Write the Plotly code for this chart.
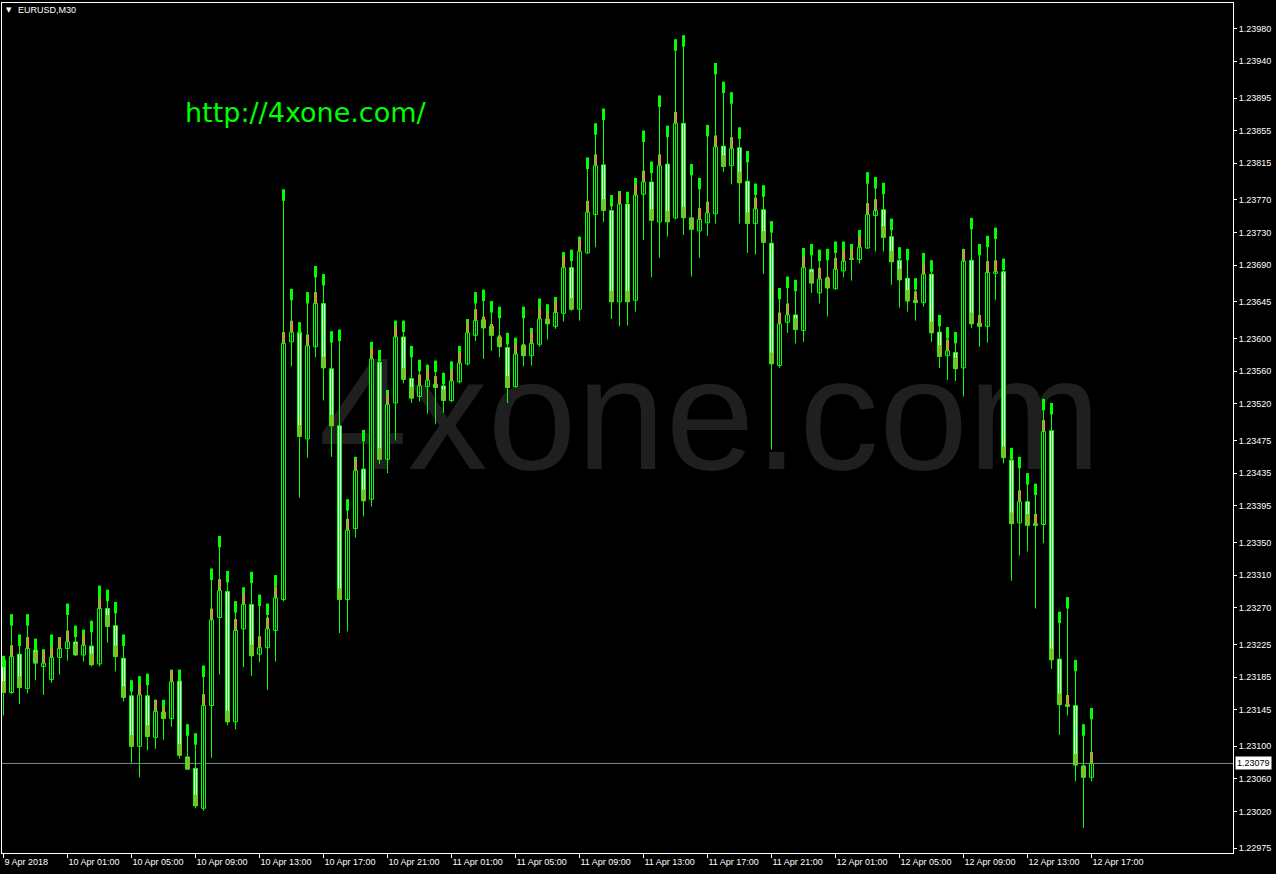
import plotly.graph_objects as go

# ---------------- data (EURUSD, M30) ----------------
opens = [1.23206, 1.23166, 1.23213, 1.23171, 1.23218, 1.23198, 1.23182, 1.23209, 1.23220, 1.23228,
         1.23212, 1.23223, 1.23201, 1.23269, 1.23248, 1.23208, 1.23162, 1.23100, 1.23162, 1.23111,
         1.23142, 1.23134, 1.23180, 1.23087, 1.23073, 1.23024, 1.23150, 1.23258, 1.23290, 1.23130,
         1.23244, 1.23274, 1.23213, 1.23221, 1.23242, 1.23280, 1.23596, 1.23608, 1.23477, 1.23590,
         1.23643, 1.23563, 1.23493, 1.23280, 1.23367, 1.23440, 1.23403, 1.23571, 1.23452, 1.23521,
         1.23602, 1.23551, 1.23529, 1.23541, 1.23544, 1.23542, 1.23524, 1.23547, 1.23569, 1.23604,
         1.23623, 1.23615, 1.23602, 1.23589, 1.23541, 1.23592, 1.23579, 1.23593, 1.23624, 1.23615,
         1.23631, 1.23687, 1.23636, 1.23705, 1.23752, 1.23813, 1.23757, 1.23645, 1.23765, 1.23647,
         1.23777, 1.23792, 1.23743, 1.23814, 1.23748, 1.23864, 1.23748, 1.23732, 1.23742, 1.23753,
         1.23836, 1.23812, 1.23834, 1.23793, 1.23741, 1.23758, 1.23717, 1.23567, 1.23620, 1.23629,
         1.23610, 1.23685, 1.23656, 1.23674, 1.23661, 1.23683, 1.23698, 1.23697, 1.23711, 1.23751,
         1.23758, 1.23725, 1.23696, 1.23674, 1.23647, 1.23644, 1.23679, 1.23608, 1.23579, 1.23583,
         1.23564, 1.23696, 1.23619, 1.23615, 1.23680, 1.23682, 1.23451, 1.23374, 1.23400, 1.23373,
         1.23372, 1.23487, 1.23207, 1.23151, 1.23150, 1.23076, 1.23062]

highs = [1.23211, 1.23262, 1.23237, 1.23262, 1.23232, 1.23219, 1.23237, 1.23234, 1.23275, 1.23248,
         1.23243, 1.23254, 1.23297, 1.23292, 1.23277, 1.23237, 1.23181, 1.23186, 1.23189, 1.23157,
         1.23157, 1.23194, 1.23194, 1.23127, 1.23116, 1.23199, 1.23318, 1.23358, 1.23315, 1.23278,
         1.23295, 1.23314, 1.23286, 1.23275, 1.23310, 1.23783, 1.23661, 1.23620, 1.23657, 1.23689,
         1.23679, 1.23609, 1.23611, 1.23403, 1.23455, 1.23488, 1.23596, 1.23586, 1.23537, 1.23622,
         1.23622, 1.23591, 1.23574, 1.23568, 1.23573, 1.23558, 1.23572, 1.23591, 1.23624, 1.23657,
         1.23660, 1.23646, 1.23639, 1.23607, 1.23601, 1.23639, 1.23613, 1.23649, 1.23642, 1.23651,
         1.23706, 1.23709, 1.23725, 1.23822, 1.23864, 1.23882, 1.23776, 1.23781, 1.23780, 1.23797,
         1.23855, 1.23817, 1.23898, 1.23861, 1.23967, 1.23972, 1.23814, 1.23797, 1.23862, 1.23938,
         1.23915, 1.23902, 1.23859, 1.23830, 1.23790, 1.23788, 1.23744, 1.23662, 1.23676, 1.23672,
         1.23711, 1.23716, 1.23709, 1.23710, 1.23719, 1.23719, 1.23716, 1.23733, 1.23804, 1.23798,
         1.23791, 1.23747, 1.23712, 1.23710, 1.23674, 1.23705, 1.23696, 1.23629, 1.23614, 1.23608,
         1.23710, 1.23748, 1.23716, 1.23726, 1.23736, 1.23698, 1.23466, 1.23455, 1.23435, 1.23422,
         1.23526, 1.23521, 1.23265, 1.23283, 1.23206, 1.23127, 1.23147]

lows = [1.23138, 1.23164, 1.23152, 1.23165, 1.23181, 1.23163, 1.23178, 1.23188, 1.23205, 1.23211,
        1.23204, 1.23198, 1.23198, 1.23227, 1.23192, 1.23155, 1.23080, 1.23062, 1.23095, 1.23097,
        1.23108, 1.23124, 1.23085, 1.23071, 1.23024, 1.23021, 1.23086, 1.23188, 1.23126, 1.23121,
        1.23197, 1.23186, 1.23203, 1.23169, 1.23204, 1.23278, 1.23566, 1.23405, 1.23454, 1.23577,
        1.23524, 1.23455, 1.23239, 1.23241, 1.23356, 1.23382, 1.23394, 1.23446, 1.23435, 1.23475,
        1.23545, 1.23521, 1.23523, 1.23508, 1.23495, 1.23509, 1.23522, 1.23545, 1.23567, 1.23597,
        1.23575, 1.23585, 1.23577, 1.23521, 1.23540, 1.23566, 1.23567, 1.23590, 1.23599, 1.23612,
        1.23621, 1.23634, 1.23622, 1.23704, 1.23712, 1.23743, 1.23624, 1.23615, 1.23616, 1.23633,
        1.23721, 1.23675, 1.23699, 1.23725, 1.23746, 1.23727, 1.23676, 1.23699, 1.23726, 1.23741,
        1.23804, 1.23789, 1.23741, 1.23705, 1.23703, 1.23679, 1.23464, 1.23564, 1.23607, 1.23594,
        1.23596, 1.23656, 1.23643, 1.23627, 1.23660, 1.23675, 1.23671, 1.23692, 1.23710, 1.23707,
        1.23707, 1.23666, 1.23638, 1.23633, 1.23622, 1.23639, 1.23596, 1.23564, 1.23549, 1.23548,
        1.23529, 1.23613, 1.23590, 1.23595, 1.23647, 1.23447, 1.23303, 1.23334, 1.23339, 1.23269,
        1.23349, 1.23195, 1.23114, 1.23138, 1.23057, 1.23000, 1.23057]

closes = [1.23166, 1.23210, 1.23172, 1.23220, 1.23202, 1.23202, 1.23209, 1.23220, 1.23228, 1.23212,
          1.23224, 1.23200, 1.23269, 1.23247, 1.23210, 1.23160, 1.23100, 1.23163, 1.23112, 1.23143,
          1.23134, 1.23179, 1.23089, 1.23072, 1.23027, 1.23150, 1.23255, 1.23291, 1.23130, 1.23242,
          1.23274, 1.23211, 1.23221, 1.23244, 1.23282, 1.23594, 1.23608, 1.23480, 1.23591, 1.23643,
          1.23564, 1.23493, 1.23280, 1.23365, 1.23438, 1.23401, 1.23575, 1.23452, 1.23519, 1.23602,
          1.23550, 1.23527, 1.23542, 1.23549, 1.23540, 1.23524, 1.23548, 1.23570, 1.23607, 1.23622,
          1.23613, 1.23604, 1.23590, 1.23540, 1.23581, 1.23579, 1.23594, 1.23624, 1.23618, 1.23632,
          1.23687, 1.23636, 1.23707, 1.23755, 1.23812, 1.23757, 1.23645, 1.23765, 1.23645, 1.23776,
          1.23792, 1.23745, 1.23812, 1.23743, 1.23864, 1.23748, 1.23734, 1.23746, 1.23754, 1.23835,
          1.23811, 1.23833, 1.23791, 1.23741, 1.23759, 1.23718, 1.23569, 1.23618, 1.23629, 1.23611,
          1.23687, 1.23668, 1.23673, 1.23662, 1.23685, 1.23695, 1.23697, 1.23712, 1.23752, 1.23757,
          1.23724, 1.23694, 1.23672, 1.23646, 1.23644, 1.23679, 1.23607, 1.23578, 1.23585, 1.23563,
          1.23695, 1.23618, 1.23615, 1.23681, 1.23682, 1.23454, 1.23373, 1.23400, 1.23371, 1.23371,
          1.23486, 1.23206, 1.23151, 1.23149, 1.23077, 1.23062, 1.23079]

bid_price = 1.23079
marker_depth = 0.00014   # height of the green (high) / coral (close) markers

time_tick_bars = [0, 8, 16, 24, 32, 40, 48, 56, 64, 72, 80, 88, 96, 104, 112, 120, 128, 136]
time_tick_labels = ["9 Apr 2018", "10 Apr 01:00", "10 Apr 05:00", "10 Apr 09:00", "10 Apr 13:00",
                    "10 Apr 17:00", "10 Apr 21:00", "11 Apr 01:00", "11 Apr 05:00", "11 Apr 09:00",
                    "11 Apr 13:00", "11 Apr 17:00", "11 Apr 21:00", "12 Apr 01:00", "12 Apr 05:00",
                    "12 Apr 09:00", "12 Apr 13:00", "12 Apr 17:00"]

price_ticks = [1.23980, 1.23940, 1.23895, 1.23855, 1.23815, 1.23770, 1.23730, 1.23690, 1.23645,
               1.23600, 1.23560, 1.23520, 1.23475, 1.23435, 1.23395, 1.23350, 1.23310, 1.23270,
               1.23225, 1.23185, 1.23145, 1.23100, 1.23060, 1.23020, 1.22975]

# ---------------- styling ----------------
LIME = "#00ff00"
CORAL = "#ff7f50"
FONT = "Liberation Sans, Arial, sans-serif"

n = len(opens)
idx = list(range(n))

wick_x, wick_y = [], []
for i in idx:
    wick_x += [i, i, None]
    wick_y += [lows[i], highs[i], None]

min_body = 0.000006
bull = [i for i in idx if closes[i] > opens[i]]
bear = [i for i in idx if closes[i] <= opens[i]]

def body(ids):
    base = [min(opens[i], closes[i]) for i in ids]
    hgt = [max(abs(closes[i] - opens[i]), min_body) for i in ids]
    return base, hgt

bull_base, bull_h = body(bull)
bear_base, bear_h = body(bear)

fig = go.Figure()
fig.add_trace(go.Scatter(x=wick_x, y=wick_y, mode="lines",
                         line=dict(color=LIME, width=1), hoverinfo="skip"))
fig.add_trace(go.Bar(x=bull, y=bull_h, base=bull_base, width=0.5,
                     marker=dict(color="black", line=dict(color=LIME, width=1)), opacity=1))
fig.add_trace(go.Bar(x=bear, y=bear_h, base=bear_base, width=0.5,
                     marker=dict(color="white", line=dict(color=LIME, width=1)), opacity=1))
fig.add_trace(go.Bar(x=idx, y=[marker_depth] * n, base=[h - marker_depth for h in highs], width=0.375,
                     marker=dict(color=LIME, line=dict(width=0)), opacity=1))
fig.add_trace(go.Bar(x=idx, y=[marker_depth] * n, base=closes, width=0.375,
                     marker=dict(color=CORAL, line=dict(width=0)), opacity=1))

fig.update_layout(
    width=1276, height=874,
    margin=dict(l=2, r=43, t=3, b=21),
    paper_bgcolor="black", plot_bgcolor="black",
    showlegend=False, barmode="overlay",
    xaxis=dict(range=[-0.1875, 153.6875], tickvals=time_tick_bars, ticktext=time_tick_labels,
               ticks="outside", ticklen=4, tickcolor="white", tickwidth=1,
               ticklabelposition="outside right",
               tickfont=dict(family=FONT, size=9, color="white"),
               showline=True, linecolor="white", linewidth=1, mirror=True,
               showgrid=False, zeroline=False, fixedrange=True),
    yaxis=dict(range=[1.229692, 1.240115], side="right", tickvals=price_ticks,
               ticktext=[f"{v:.5f}" for v in price_ticks],
               ticks="outside", ticklen=3, tickcolor="white", tickwidth=1,
               tickfont=dict(family=FONT, size=9, color="white"),
               showline=True, linecolor="white", linewidth=1, mirror=True,
               showgrid=False, zeroline=False, fixedrange=True),
    shapes=[
        dict(type="rect", xref="paper", yref="paper", x0=0.15, x1=1.0, y0=0.435, y1=0.635,
             line=dict(width=0), fillcolor="rgba(0,0,0,0)", layer="below",
             label=dict(text="4xone.com", textposition="middle center",
                        font=dict(family=FONT, size=160, color="#1f1f1f"))),
        dict(type="line", xref="paper", yref="y", x0=0, x1=1, y0=bid_price, y1=bid_price,
             line=dict(color="#778899", width=1), layer="below"),
    ],
    annotations=[
        dict(text="http://4xone.com/", xref="paper", yref="paper", x=0.2466, y=0.8706,
             xanchor="center", yanchor="middle", showarrow=False,
             font=dict(family="DejaVu Sans, Verdana, sans-serif", size=27, color=LIME)),
        dict(text="EURUSD,M30", xref="paper", yref="paper", x=0.0115, y=0.9915,
             xanchor="left", yanchor="middle", showarrow=False,
             font=dict(family=FONT, size=9, color="white")),
        dict(text="▼", xref="paper", yref="paper", x=0.0053, y=0.9915,
             xanchor="center", yanchor="middle", showarrow=False,
             font=dict(family="DejaVu Sans", size=7, color="white")),
        dict(text=f"{bid_price:.5f}", xref="paper", yref="y", x=1, y=bid_price,
             xanchor="left", yanchor="middle", xshift=2, showarrow=False,
             bgcolor="white", borderpad=1,
             font=dict(family=FONT, size=9, color="black")),
    ],
)

fig.write_html("out.html", config={"displayModeBar": False},
               post_script="document.body.style.margin='0';document.body.style.overflow='hidden';")
